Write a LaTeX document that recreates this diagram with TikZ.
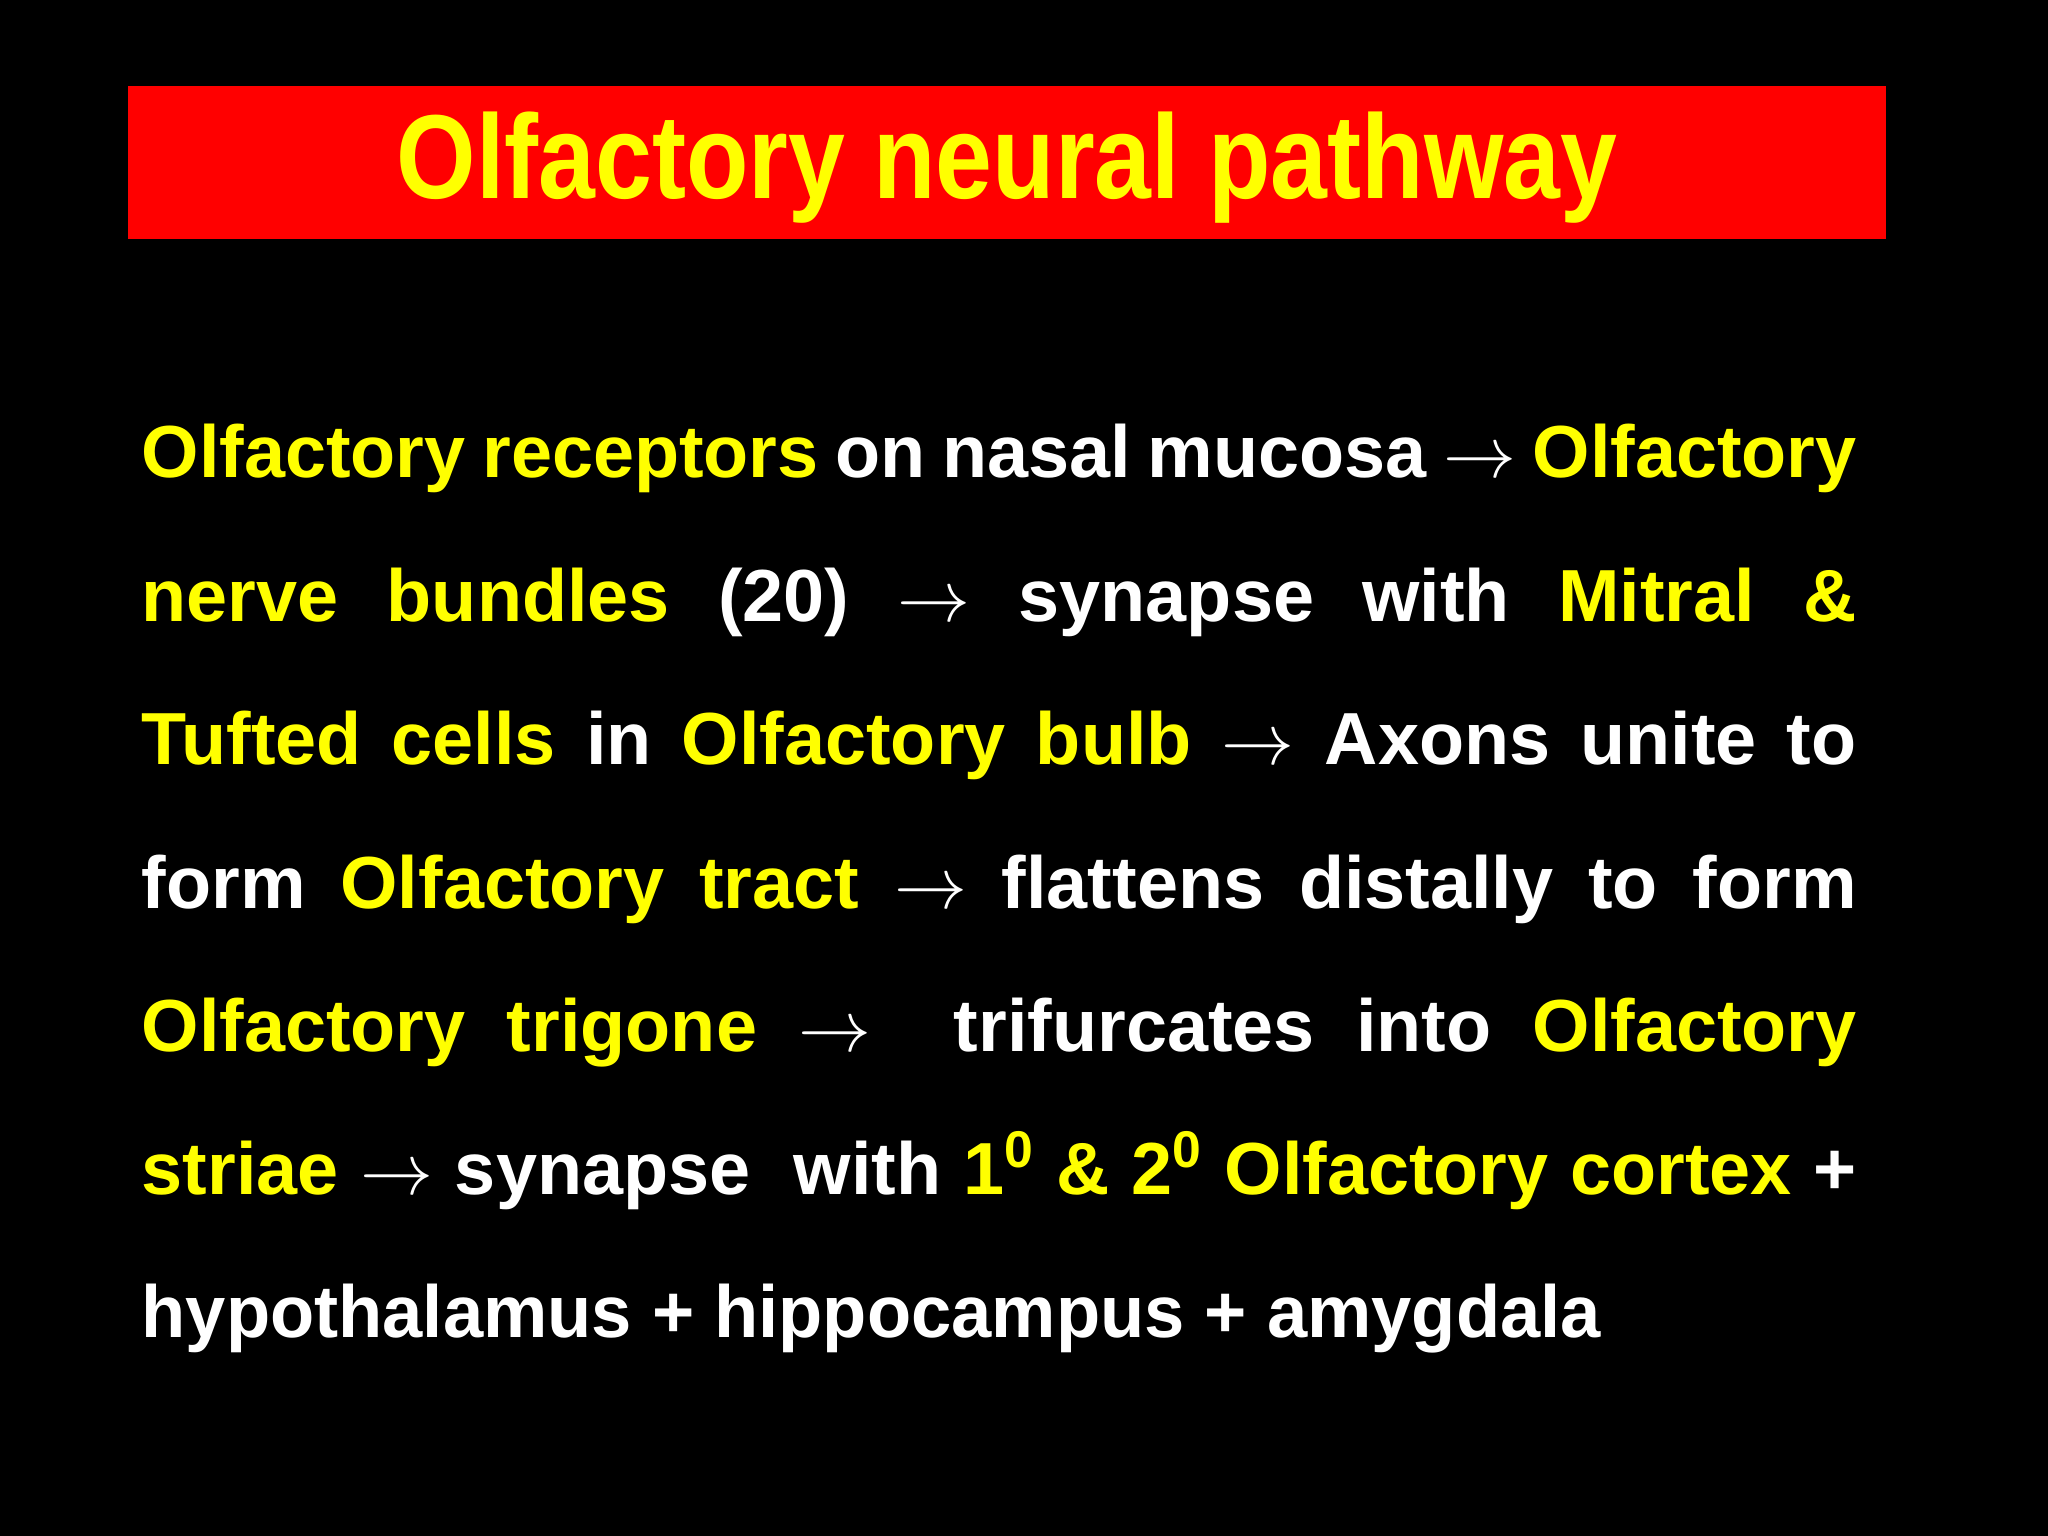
\documentclass[tikz,border=0pt]{standalone}
\usepackage{fontspec}
\setmainfont{Liberation Sans}
\definecolor{ylw}{RGB}{255,255,0}
\newcommand{\Y}[1]{\textcolor{ylw}{#1}}
\newcommand{\ar}{$\rightarrow$}
\begin{document}
\begin{tikzpicture}[x=1cm,y=-1cm,
  ln/.style={anchor=base west,inner sep=0pt,text=white,font=\bfseries\fontsize{21}{25}\selectfont}]
\fill[black] (0,0) rectangle (20.48,15.36);
\fill[red] (1.28,0.86) rectangle (18.86,2.39);
\node[text=ylw,font=\bfseries\fontsize{34}{40}\selectfont] (title) at (10.07,1.68) {\scalebox{0.855}[1]{Olfactory neural pathway}};
\node[ln] (l1) at (1.41,4.78) {\makebox[17.15cm][s]{\Y{Olfactory receptors} on nasal mucosa \ar\ \Y{Olfactory}}};
\node[ln] (l2) at (1.41,6.22) {\makebox[17.15cm][s]{\Y{nerve bundles} (20) \ar\ synapse with \Y{Mitral \&}}};
\node[ln] (l3) at (1.41,7.64) {\makebox[17.15cm][s]{\Y{Tufted cells} in \Y{Olfactory bulb} \ar\ Axons unite to}};
\node[ln] (l4) at (1.41,9.08) {\makebox[17.15cm][s]{form \Y{Olfactory tract} \ar\ flattens distally to form}};
\node[ln] (l5) at (1.41,10.51) {\makebox[17.15cm][s]{\Y{Olfactory trigone} \ar\ \ trifurcates into \Y{Olfactory}}};
\node[ln] (l6) at (1.41,11.94) {\makebox[17.15cm][s]{\Y{striae} \ar\ synapse \ with \Y{1\textsuperscript{0} \& 2\textsuperscript{0} Olfactory cortex} +}};
\node[ln] (l7) at (1.41,13.37) {\scalebox{0.98}[1]{hypothalamus + hippocampus + amygdala}};
\end{tikzpicture}
\end{document}
